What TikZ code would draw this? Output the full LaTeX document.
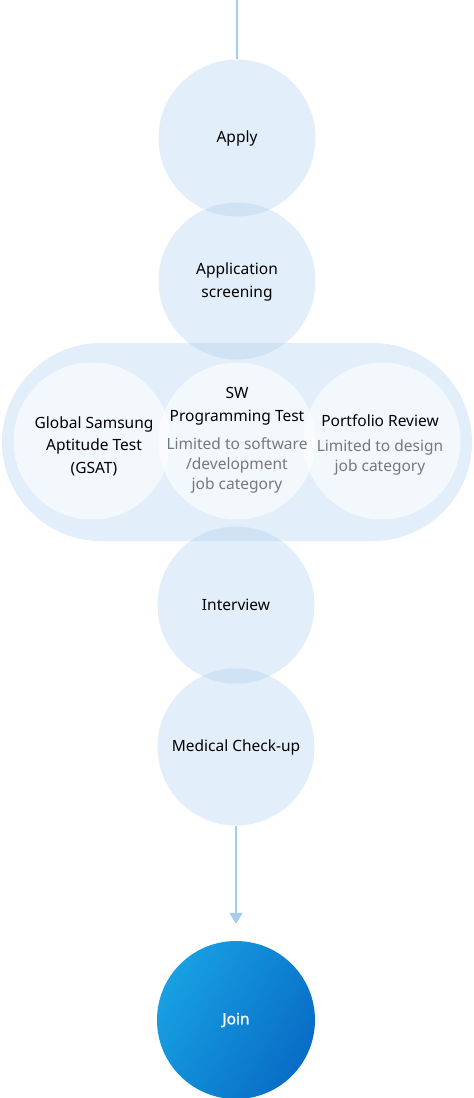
\documentclass[tikz,border=0pt]{standalone}
\usepackage{fontspec}
\setmainfont{Noto Sans}
\newfontfamily\joinfont[FakeBold=1.5]{Noto Sans}
\usetikzlibrary{arrows.meta}
\definecolor{cfill}{RGB}{172,206,238}
\definecolor{lineblue}{RGB}{167,203,234}
\definecolor{graytxt}{RGB}{120,120,120}
\definecolor{joinA}{RGB}{24,160,226}
\definecolor{joinB}{RGB}{8,108,198}
\tikzset{
  stepcirc/.style={circle, fill=cfill, fill opacity=0.35, minimum size=157pt, inner sep=0pt},
  subcirc/.style={circle, fill=white, fill opacity=0.6, minimum size=157pt, inner sep=0pt},
  txt/.style={align=center, text=black, font=\fontsize{15.5}{22.5}\selectfont, inner sep=0pt},
  gtxt/.style={align=center, text=graytxt, font=\fontsize{15.5}{20}\selectfont, inner sep=0pt},
  conn/.style={draw=lineblue, line width=2pt}
}
\begin{document}
\begin{tikzpicture}[x=1pt,y=-1pt]
\useasboundingbox (0,0) rectangle (474,1098);
\coordinate (top) at (237,0);
\node[stepcirc] (apply) at (237,138) {};
\node[stepcirc] (screen) at (237,281) {};
\node[fill=cfill, fill opacity=0.35, rectangle, rounded corners=99pt, minimum width=470pt, minimum height=198pt, inner sep=0pt] (pill) at (237,442) {};
\node[subcirc] (gsat) at (92,441) {};
\node[subcirc] (sw) at (237,441) {};
\node[subcirc] (port) at (382,441) {};
\node[stepcirc] (interview) at (236,605) {};
\node[stepcirc] (medical) at (236,747) {};
\node[circle, minimum size=158pt, inner sep=0pt, left color=joinA, right color=joinB, shading angle=60] (join) at (236,1020) {};

\draw[conn] (top) -- (apply.north);
\draw[conn, -{Triangle[width=13pt,length=11pt]}, shorten >=17pt] (medical.south) -- (join.north);

\node[txt] (tapply) at (237,138) {Apply};
\node[txt] (tscreen) at (237,282) {Application\\screening};
\node[txt] (tgsat) at (94,446) {Global Samsung\\Aptitude Test\\(GSAT)};
\node[txt] (tsw) at (237,406) {SW\\Programming Test};
\node[gtxt] (tswg) at (237,465) {Limited to software\\/development\\job category};
\node[txt] (tport) at (380,421) {Portfolio Review};
\node[gtxt] (tportg) at (380,457) {Limited to design\\job category};
\node[txt] (tint) at (236,605) {Interview};
\node[txt] (tmed) at (236,747) {Medical Check-up};
\node[txt, text=white, font=\fontsize{15.5}{18}\selectfont\joinfont] (tjoin) at (236,1020) {Join};
\end{tikzpicture}
\end{document}
